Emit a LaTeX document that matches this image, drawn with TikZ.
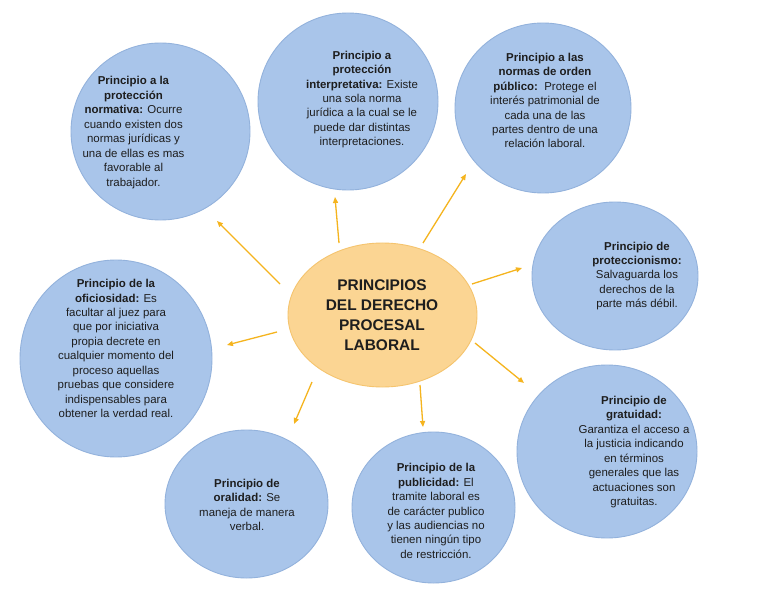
\documentclass[tikz,border=0pt]{standalone}
\usepackage{fontspec}
\setmainfont{Liberation Sans}
\usetikzlibrary{shapes.geometric,arrows.meta}
\definecolor{bubfill}{HTML}{A9C5EA}
\definecolor{bubline}{HTML}{93B2DC}
\definecolor{hubfill}{HTML}{FBD593}
\definecolor{hubline}{HTML}{F5C46E}
\definecolor{arrcol}{HTML}{F5B41E}
\definecolor{txtcol}{HTML}{1E1E1E}
\newcommand\bodyf{\fontsize{11.5}{14.5}\selectfont}
\newcommand\hubf{\fontsize{15.5}{20}\selectfont\bfseries}
\begin{document}
\begin{tikzpicture}[x=1bp,y=-1bp,
  bub/.style={ellipse, draw=bubline, fill=bubfill, line width=0.9pt, inner sep=0pt, outer sep=0pt},
  hub/.style={ellipse, draw=hubline, fill=hubfill, line width=0.9pt, inner sep=0pt, outer sep=0pt},
  txt/.style={align=center, font=\bodyf, text=txtcol, inner sep=0pt},
  hubtxt/.style={align=center, font=\hubf, text=txtcol, inner sep=0pt},
  arr/.style={draw=arrcol, line width=1.3pt, -{Triangle[length=6pt,width=5pt]}}]
\useasboundingbox[fill=white] (0,0) rectangle (768,594);

% bubbles
\node[bub, minimum width=179bp, minimum height=177bp] (c1) at (160.5,131.5) {};
\node[bub, minimum width=180bp, minimum height=177bp] (c2) at (348,101.5) {};
\node[bub, minimum width=176bp, minimum height=170bp] (c3) at (543,108) {};
\node[bub, minimum width=166bp, minimum height=148bp] (c4) at (615,276) {};
\node[bub, minimum width=192bp, minimum height=197bp] (c5) at (116,358.5) {};
\node[bub, minimum width=180bp, minimum height=173bp] (c7) at (607,451.5) {};
\node[bub, minimum width=163bp, minimum height=148bp] (c8) at (246.5,504) {};
\node[bub, minimum width=163bp, minimum height=151bp] (c9) at (433.5,507.5) {};
\node[hub, minimum width=189bp, minimum height=144bp] (hub) at (382.5,315) {};

% texts
\node[txt] (t1) at (133.5,132.5) {\textbf{Principio a la}\\\textbf{protección}\\\textbf{normativa:} Ocurre\\cuando existen dos\\normas jurídicas y\\una de ellas es mas\\favorable al\\trabajador.};
\node[txt] (t2) at (362,99.5) {\textbf{Principio a}\\\textbf{protección}\\\textbf{interpretativa:} Existe\\una sola norma\\jurídica a la cual se le\\puede dar distintas\\interpretaciones.};
\node[txt] (t3) at (545,100.5) {\textbf{Principio a las}\\\textbf{normas de orden}\\\textbf{público:}\ \ Protege el\\interés patrimonial de\\cada una de las\\partes dentro de una\\relación laboral.};
\node[txt] (t4) at (637,276) {\textbf{Principio de}\\\textbf{proteccionismo:}\\Salvaguarda los\\derechos de la\\parte más débil.};
\node[txt] (t5) at (116,348.5) {\textbf{Principio de la}\\\textbf{oficiosidad:} Es\\facultar al juez para\\que por iniciativa\\propia decrete en\\cualquier momento del\\proceso aquellas\\pruebas que considere\\indispensables para\\obtener la verdad real.};
\node[hubtxt] (th) at (382,315) {PRINCIPIOS\\DEL DERECHO\\PROCESAL\\LABORAL};
\node[txt] (t7) at (634,452) {\textbf{Principio de}\\\textbf{gratuidad:}\\Garantiza el acceso a\\la justicia indicando\\en términos\\generales que las\\actuaciones son\\gratuitas.};
\node[txt] (t8) at (247,505) {\textbf{Principio de}\\\textbf{oralidad:} Se\\maneja de manera\\verbal.};
\node[txt] (t9) at (436,511) {\textbf{Principio de la}\\\textbf{publicidad:} El\\tramite laboral es\\de carácter publico\\y las audiencias no\\tienen ningún tipo\\de restricción.};

% arrow end points
\coordinate (s1) at (280,284); \coordinate (e1) at (217,221);
\coordinate (s2) at (339,243); \coordinate (e2) at (335,197);
\coordinate (s3) at (423,243); \coordinate (e3) at (466,174);
\coordinate (s4) at (472,284); \coordinate (e4) at (522,268);
\coordinate (s5) at (277,332); \coordinate (e5) at (227,345);
\coordinate (s6) at (475,343); \coordinate (e6) at (524,383);
\coordinate (s7) at (312,382); \coordinate (e7) at (294,424);
\coordinate (s8) at (420,385); \coordinate (e8) at (423,427);

\foreach \i in {1,...,8} { \draw[arr] (s\i) -- (e\i); }
\end{tikzpicture}
\end{document}
